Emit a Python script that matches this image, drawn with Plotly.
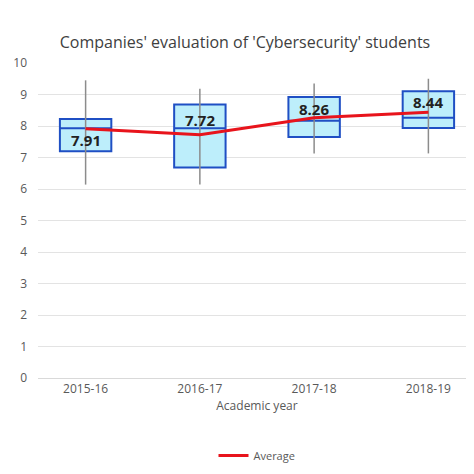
import plotly.graph_objects as go

years = ["2015-16", "2016-17", "2017-18", "2018-19"]
q1 = [7.2, 6.68, 7.65, 7.94]
med = [7.93, 7.93, 8.17, 8.26]
q3 = [8.22, 8.68, 8.92, 9.1]
lo = [6.14, 6.14, 7.13, 7.13]
hi = [9.45, 9.18, 9.35, 9.5]
avg = [7.91, 7.72, 8.26, 8.44]
label_y = [7.55, 8.2, 8.55, 8.75]

fig = go.Figure()

# whiskers in grey, drawn under the boxes
wx, wy = [], []
for i, yr in enumerate(years):
    wx += [yr, yr, None]
    wy += [lo[i], hi[i], None]
fig.add_trace(go.Scatter(x=wx, y=wy, mode="lines", line=dict(color="#8c8c8c", width=1.5),
                         showlegend=False, hoverinfo="skip"))

fig.add_trace(go.Box(x=years, q1=q1, median=med, q3=q3, lowerfence=q1, upperfence=q3,
                     fillcolor="#bdeefb", line=dict(color="#1f4fc4", width=2),
                     width=0.45, whiskerwidth=0, showlegend=False, hoverinfo="skip"))

fig.add_trace(go.Scatter(x=years, y=avg, mode="lines", name="Average",
                         line=dict(color="#e8141c", width=3)))

for i, yr in enumerate(years):
    fig.add_annotation(x=yr, y=label_y[i], text="<b>%.2f</b>" % avg[i], showarrow=False,
                       font=dict(size=15, color="#222"))

fig.update_layout(
    width=474, height=474,
    title=dict(text="Companies' evaluation of 'Cybersecurity' students", x=0.5, y=0.94,
               font=dict(size=16, color="#404040")),
    font=dict(family="Open Sans", color="#595959", size=12),
    plot_bgcolor="white", paper_bgcolor="white",
    margin=dict(l=30, r=6, t=55, b=104),
    legend=dict(orientation="h", x=0.5, xanchor="center", y=-0.2, font=dict(size=11)),
    xaxis=dict(title=dict(text="Academic year", font=dict(size=12), standoff=4),
               showline=True, linecolor="#d9d9d9", ticks=""),
    yaxis=dict(range=[0, 10], dtick=1, gridcolor="#e3e3e3", zeroline=False, ticks="",
               ticklabelstandoff=10),
)

fig.write_html("out.html")
